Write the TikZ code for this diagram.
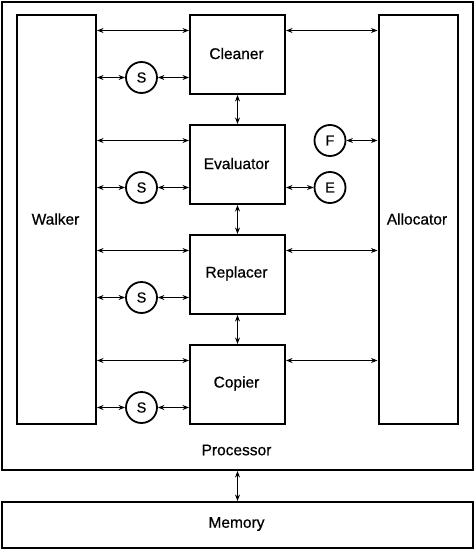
\documentclass[tikz,border=0pt]{standalone}
\usepackage{fontspec}
\setmainfont{Liberation Sans}
\newfontfamily\lblfont{Liberation Sans}[FakeBold=0.6]
\usetikzlibrary{arrows.meta}
\begin{document}
\begin{tikzpicture}[x=1pt,y=-1pt,
  blk/.style={draw,line width=2pt,inner sep=0pt,anchor=north west},
  circ/.style={draw,circle,line width=1.8pt,minimum size=31pt,inner sep=0pt,font=\lblfont\fontsize{14.5}{16}\selectfont},
  lbl/.style={font=\lblfont\fontsize{15.5}{18}\selectfont},
  biarrow/.style={line width=1.7pt,{Stealth[length=6.5pt,width=5pt]}-{Stealth[length=6.5pt,width=5pt]}},
  every node/.style={lbl}]
\useasboundingbox (0,0) rectangle (474,549);
% outer boxes
\node[blk,minimum width=471pt,minimum height=468pt] (proc) at (1,1) {};
\node[blk,minimum width=471pt,minimum height=46pt] (mem) at (1,501) {};
\node at (236.5,450) {Processor};
\node at (236.5,524) {Memory};
% walker and allocator
\node[blk,minimum width=79pt,minimum height=409pt] (walk) at (16,14) {};
\node at (55.5,219) {Walker};
\node[blk,minimum width=79pt,minimum height=409pt] (alloc) at (377.5,14) {};
\node at (417,219) {Allocator};
% center boxes
\node[blk,minimum width=95pt,minimum height=79pt] (clean) at (189,14) {};
\node at (236.5,53.5) {Cleaner};
\node[blk,minimum width=95pt,minimum height=79pt] (eval) at (189,124) {};
\node at (236.5,163.5) {Evaluator};
\node[blk,minimum width=95pt,minimum height=79pt] (repl) at (189,234) {};
\node at (236.5,273.5) {Replacer};
\node[blk,minimum width=95pt,minimum height=79pt] (copy) at (189,344) {};
\node at (236.5,383.5) {Copier};
% circles
\node[circ] (s1) at (141.5,77.5) {S};
\node[circ] (s2) at (141.5,187.5) {S};
\node[circ] (s3) at (141.5,297.5) {S};
\node[circ] (s4) at (141.5,407.5) {S};
\node[circ] (f) at (330,140.5) {F};
\node[circ] (e) at (330,187.5) {E};
% top-row arrows walker <-> boxes
\foreach \b/\y in {clean/30.5,eval/140.5,repl/250.5,copy/360.5}{
  \draw[biarrow] (walk.east |- 0,\y) -- (\b.west |- 0,\y);
}
% S arrows
\foreach \s/\b in {s1/clean,s2/eval,s3/repl,s4/copy}{
  \draw[biarrow] (walk.east |- \s) -- (\s.west);
  \draw[biarrow] (\s.east) -- (\b.west |- \s);
}
% right side arrows
\foreach \b/\y in {clean/30.5,repl/250.5,copy/360.5}{
  \draw[biarrow] (\b.east |- 0,\y) -- (alloc.west |- 0,\y);
}
\draw[biarrow] (f.east) -- (alloc.west |- f);
\draw[biarrow] (eval.east |- e) -- (e.west);
% vertical arrows
\draw[biarrow] (clean.south) -- (eval.north);
\draw[biarrow] (eval.south) -- (repl.north);
\draw[biarrow] (repl.south) -- (copy.north);
\draw[biarrow] (proc.south) -- (mem.north);
\end{tikzpicture}
\end{document}
